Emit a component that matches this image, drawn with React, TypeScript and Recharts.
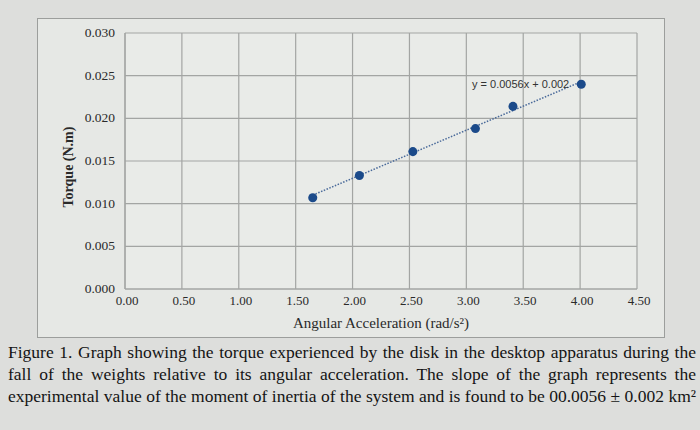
import React from 'react';
import {
  ComposedChart,
  Scatter,
  XAxis,
  YAxis,
  CartesianGrid,
  ReferenceDot,
  Label,
} from 'recharts';

const accel = [1.65, 2.06, 2.53, 3.08, 3.41, 4.01];
const torque = [0.0107, 0.0133, 0.0161, 0.0188, 0.0214, 0.024];

// dotted trendline ends (as drawn)
const trendX = [1.65, 4.01];
const trendY = [0.011, 0.0243];

const xTicks = [0, 0.5, 1, 1.5, 2, 2.5, 3, 3.5, 4, 4.5];
const yTicks = [0, 0.005, 0.01, 0.015, 0.02, 0.025, 0.03];

const equation = 'y = 0.0056x + 0.002';
const equationAt = { x: 4.01, y: 0.024 };

const captionLines = [
  'Figure 1. Graph showing the torque experienced by the disk in the desktop apparatus during the',
  'fall of the weights relative to its angular acceleration. The slope of the graph represents the',
  'experimental value of the moment of inertia of the system and is found to be 00.0056 \u00b1 0.002 km\u00b2',
];

const points = accel.map((x, i) => ({ x, y: torque[i] }));
const trend = trendX.map((x, i) => ({ x, y: trendY[i] }));

const serif = '"Liberation Serif", "DejaVu Serif", serif';
const gridColor = '#a3a5a3';
const dotColor = '#1b4a8a';
const textColor = '#2a2a2a';

const XTick = (props: any) => {
  const { x, y, payload } = props;
  return (
    <text x={x + 2} y={y + 16} textAnchor="middle" fontFamily={serif} fontSize={13} fill={textColor}>
      {Number(payload.value).toFixed(2)}
    </text>
  );
};

const YTick = (props: any) => {
  const { x, y, payload } = props;
  return (
    <text x={x - 10} y={y + 4} textAnchor="end" fontFamily={serif} fontSize={13.5} fill={textColor}>
      {Number(payload.value).toFixed(3)}
    </text>
  );
};

const App: React.FC = () => {
  return (
    <div
      style={{
        position: 'absolute',
        left: 0,
        top: 0,
        width: 700,
        height: 430,
        background: '#dddedc',
        overflow: 'hidden',
        fontFamily: serif,
      }}
    >
      <div
        style={{
          position: 'absolute',
          left: 37,
          top: 18,
          width: 628,
          height: 320,
          border: '1px solid #9c9e9c',
          background: '#e6e8e5',
          boxSizing: 'border-box',
        }}
      >
        <ComposedChart
          width={626}
          height={318}
          margin={{ top: 14, right: 27, bottom: 8, left: 27 }}
        >
          <CartesianGrid stroke={gridColor} strokeWidth={1.2} fill="#e9ebe8" />
          <XAxis
            type="number"
            dataKey="x"
            domain={[0, 4.5]}
            ticks={xTicks}
            tick={<XTick />}
            tickLine={false}
            tickSize={0}
            tickMargin={0}
            axisLine={{ stroke: gridColor, strokeWidth: 1.2 }}
            height={40}
          >
            <Label
              value="Angular Acceleration (rad/s²)"
              position="insideBottom"
              offset={1}
              style={{ fontFamily: serif, fontSize: 15, fill: textColor }}
            />
          </XAxis>
          <YAxis
            type="number"
            dataKey="y"
            domain={[0, 0.03]}
            ticks={yTicks}
            tick={<YTick />}
            tickLine={false}
            tickSize={0}
            tickMargin={0}
            axisLine={{ stroke: gridColor, strokeWidth: 1.2 }}
            width={60}
          >
            <Label
              value="Torque (N.m)"
              angle={-90}
              position="center"
              dx={-27}
              dy={6}
              style={{ fontFamily: serif, fontSize: 14, fontWeight: 'bold', fill: textColor, textAnchor: 'middle' }}
            />
          </YAxis>
          <Scatter
            data={trend}
            line={{ stroke: '#4a6a9a', strokeWidth: 1.5, strokeDasharray: '1.5 1.5' }}
            shape={() => null}
            isAnimationActive={false}
          />
          <Scatter data={points} fill={dotColor} shape="circle" isAnimationActive={false} />
          <ReferenceDot
            x={equationAt.x}
            y={equationAt.y}
            r={0}
            fill="none"
            stroke="none"
            label={{
              value: equation,
              position: 'left',
              offset: 12,
              style: { fontFamily: '"Liberation Sans", Arial, sans-serif', fontSize: 11, fill: '#333' },
            }}
          />
        </ComposedChart>
      </div>
      <div
        style={{
          position: 'absolute',
          left: 8,
          top: 341,
          width: 688,
          fontSize: 17.5,
          lineHeight: '22px',
          color: '#141414',
          fontFamily: serif,
        }}
      >
        {captionLines.map((line) => (
          <div key={line} style={{ textAlign: 'justify', textAlignLast: 'justify', whiteSpace: 'nowrap' }}>
            {line}
          </div>
        ))}
      </div>
    </div>
  );
};

export default App;
